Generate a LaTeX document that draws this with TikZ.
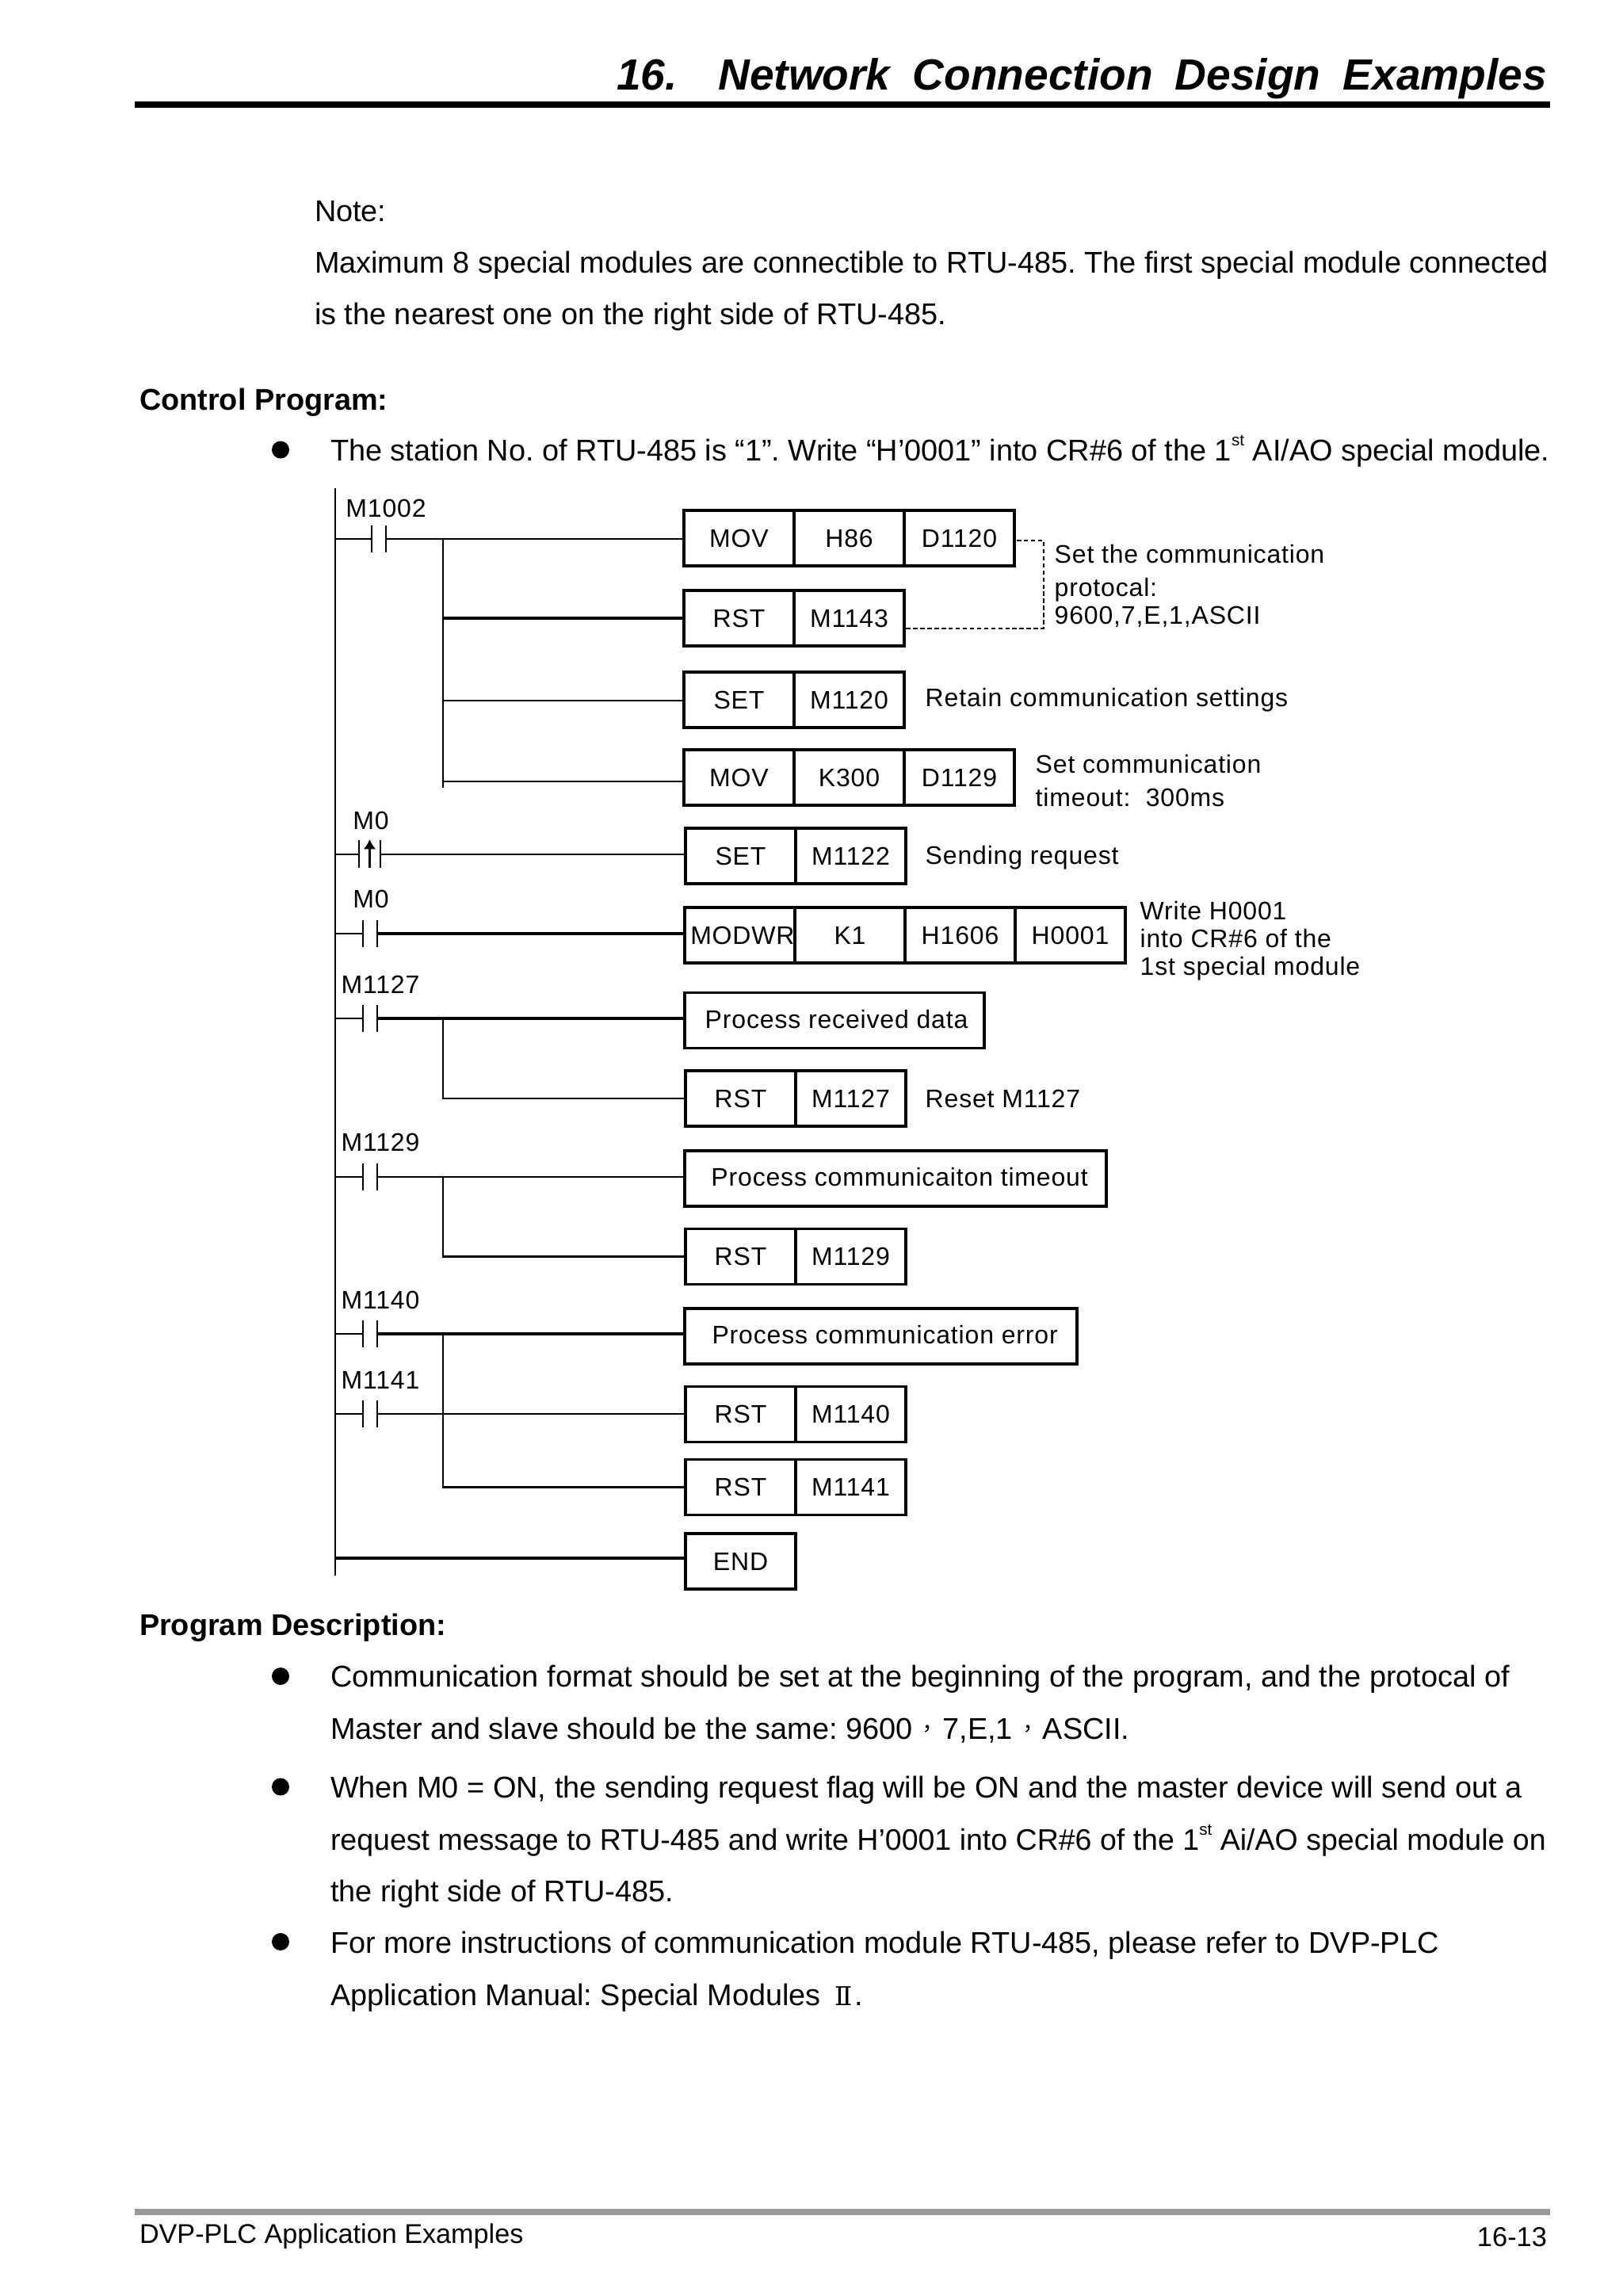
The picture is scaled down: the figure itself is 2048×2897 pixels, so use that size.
\documentclass[tikz,border=0pt]{standalone}
\usepackage{fontspec}
\setmainfont{Liberation Sans}
\newfontfamily\ladderfont[LetterSpace=2.6]{Liberation Sans}
\newfontfamily\cjkfont{Noto Sans CJK TC}
\newfontfamily\romanfont{DejaVu Serif}
\usetikzlibrary{positioning,calc,arrows.meta}
\definecolor{footgray}{RGB}{153,153,153}
\newcommand{\px}{0.2905pt}
\newcommand{\supst}[1]{\raisebox{5.5pt}{\fontsize{6}{7}\selectfont #1}}
\newcommand{\widecomma}{\makebox[11pt][c]{\raisebox{0.8pt}{\cjkfont\fontsize{8}{8}\selectfont ，}}}
\frenchspacing

\tikzset{
    pagetext/.style={anchor=base west,inner sep=0pt,outer sep=0pt,font=\fontsize{11}{13}\selectfont},
    pageend/.style={pagetext,anchor=base east},
    bulletdot/.style={circle,fill=black,inner sep=0pt,minimum size=22*\px},
    wire/.style={line width=0.8pt},
    heavywire/.style={line width=1.1pt},
    cell/.style={draw,line width=0.95pt,inner sep=0pt,outer sep=0pt,minimum width=139*\px,minimum height=70*\px,
        text height=6.6pt,text depth=0pt,font=\ladderfont\fontsize{9.3}{10}\selectfont},
    proccell/.style={cell,anchor=west,text depth=1pt},
    note/.style={anchor=west,inner sep=0pt,align=left,font=\ladderfont\fontsize{9.3}{10.2}\selectfont},
    contactlabel/.style={inner sep=0pt,font=\ladderfont\fontsize{9.3}{10}\selectfont},
    contact/.style={inner sep=0pt,outer sep=0pt,minimum width=18*\px,minimum height=34*\px},
}

\begin{document}
\begin{tikzpicture}[x=\px,y=-\px]
    \useasboundingbox (0,0) rectangle (2048,2897);

    % Page head
    \node[pageend,font=\fontsize{16}{18}\selectfont\bfseries\itshape] (title) at (1952,113) {16.\hspace{15pt}Network\hspace{8.2pt}Connection\hspace{8.2pt}Design\hspace{8.2pt}Examples};
    \fill (170,128) rectangle (1956,135.5);

    % Note
    \node[pagetext] (noteA) at (397,279) {Note:};
    \node[pagetext] (noteB) at (397,344) {Maximum 8 special modules are connectible to RTU-485. The first special module connected};
    \node[pagetext] (noteC) at (397,409.5) {is the nearest one on the right side of RTU-485.};

    % Control program
    \node[pagetext,font=\fontsize{11}{13}\selectfont\bfseries] (ctrlhead) at (176,517) {Control Program:};
    \node[bulletdot] (dotA) at (354,567.5) {};
    \node[pagetext] (ctrltext) at (417,581) {The station No. of RTU-485 is “1”. Write “H’0001” into CR\#6 of the 1\supst{st} AI/AO special module.};

    % Power rail
    \coordinate (railtop) at (423,616);
    \coordinate (railbot) at (423,1988);
    \draw[wire] (railtop) -- (railbot);

    % Contacts
    \foreach \nm/\cx/\cy/\lx/\ly/\txt in {
        cA/478/680/487/641/M1002,
        cC/467/1178/468/1134/M0,
        cD/467/1285/480/1242/M1127,
        cE/467/1485/480/1441/M1129,
        cF/467/1683/480/1640/M1140,
        cG/467/1784/480/1741/M1141} {
        \node[contact] (\nm) at (\cx,\cy) {};
        \node[contactlabel] (\nm lbl) at (\lx,\ly) {\txt};
        \draw[wire] (\nm.north west) -- (\nm.south west);
        \draw[wire] (\nm.north east) -- (\nm.south east);
        \draw[wire] (railtop |- \nm.west) -- (\nm.west);
    }

    % Rising edge contact
    \node[contact,minimum width=27*\px] (cB) at (466.5,1078) {};
    \node[contactlabel] (cBlbl) at (468,1035) {M0};
    \draw[wire] ([shift={(0,-1)}]cB.north west) -- (cB.south west);
    \draw[wire] ([shift={(0,-1)}]cB.north east) -- (cB.south east);
    \draw[wire,-{Latex[length=3.6pt,width=4.6pt]}] (cB.south) -- ([shift={(0,-2)}]cB.north);
    \draw[wire] (railtop |- cB.west) -- (cB.west);

    % Group M1002
    \node[cell,anchor=west] (movA) at (863,679) {MOV};
    \node[cell,right=0pt of movA] (movAsrc) {H86};
    \node[cell,right=0pt of movAsrc] (movAdst) {D1120};
    \node[cell,anchor=west] (rstA) at (863,780) {RST};
    \node[cell,right=0pt of rstA] (rstAdev) {M1143};
    \node[cell,anchor=west] (setA) at (863,883) {SET};
    \node[cell,right=0pt of setA] (setAdev) {M1120};
    \node[cell,anchor=west] (movB) at (863,981) {MOV};
    \node[cell,right=0pt of movB] (movBsrc) {K300};
    \node[cell,right=0pt of movBsrc] (movBdst) {D1129};
    \coordinate (trunkAtop) at (559,680);
    \coordinate (trunkAbot) at (559,994);
    \draw[wire] (trunkAtop) -- (trunkAbot);
    \draw[wire] (cA.east) -- (cA.east -| movA.west);
    \draw[heavywire] (trunkAtop |- rstA.west) -- (rstA.west);
    \draw[wire] ($(trunkAtop |- setA.west)+(0,1)$) -- ($(setA.west)+(0,1)$);
    \draw[wire] ($(trunkAtop |- movB.west)+(0,5)$) -- ($(movB.west)+(0,5)$);

    % Dashed bracket
    \coordinate (dashturn) at (1317,740);
    \draw[wire,dash pattern=on 1.6pt off 1pt] ($(movAdst.east)+(3,3)$) -| (dashturn) |- ($(rstAdev.east)+(1,13)$);
    \node[note] (noteset) at (1330,739) {Set the communication\\[2pt]protocal:\\9600,7,E,1,ASCII};
    \node[note] (noteretain) at (1167,883) {Retain communication settings};
    \node[note] (notetime) at (1306,985) {Set communication\\[2pt]timeout:\ \ 300ms};

    % M0 rows
    \node[cell,anchor=west] (setB) at (865,1080) {SET};
    \node[cell,right=0pt of setB] (setBdev) {M1122};
    \draw[wire] (cB.east) -- (cB.east -| setB.west);
    \node[note] (notesend) at (1167,1082) {Sending request};
    \node[cell,anchor=west] (mod) at (864,1180) {\hspace{2pt}MODWR};
    \node[cell,right=0pt of mod] (modst) {K1};
    \node[cell,right=0pt of modst] (modreg) {H1606};
    \node[cell,right=0pt of modreg] (modval) {H0001};
    \draw[heavywire] (cC.east) -- (cC.east -| mod.west);
    \node[note] (notewrite) at (1438,1187) {Write H0001\\into CR\#6 of the\\1st special module};

    % Group M1127
    \node[proccell,minimum width=378*\px] (procA) at (864,1287.5) {\hspace{1.5pt}Process received data};
    \node[cell,anchor=west] (rstB) at (865,1386) {RST};
    \node[cell,right=0pt of rstB] (rstBdev) {M1127};
    \draw[heavywire] (cD.east) -- (cD.east -| procA.west);
    \draw[wire] (559,1285) |- (rstB.west);
    \node[note] (notereset) at (1167,1386) {Reset M1127};

    % Group M1129
    \node[proccell,minimum width=532*\px] (procB) at (864,1487) {\hspace{3pt}Process communicaiton timeout};
    \node[cell,anchor=west] (rstC) at (865,1585.5) {RST};
    \node[cell,right=0pt of rstC] (rstCdev) {M1129};
    \draw[wire] (cE.east) -- (cE.east -| procB.west);
    \draw[wire] (559,1485) |- (rstC.west);

    % Group M1140 / M1141
    \node[proccell,minimum width=495*\px] (procC) at (864,1686) {\hspace{3pt}Process communication error};
    \node[cell,anchor=west] (rstD) at (865,1784.5) {RST};
    \node[cell,right=0pt of rstD] (rstDdev) {M1140};
    \node[cell,anchor=west] (rstE) at (865,1876.5) {RST};
    \node[cell,right=0pt of rstE] (rstEdev) {M1141};
    \draw[heavywire] (cF.east) -- (cF.east -| procC.west);
    \draw[wire] (cG.east) -- (cG.east -| rstD.west);
    \draw[wire] (559,1683) |- (rstE.west);

    % End
    \node[cell,anchor=west] (endcell) at (865,1970) {END};
    \draw[heavywire] (railtop |- 0,1966) -- ($(endcell.west)+(0,-4)$);

    % Program description
    \node[pagetext,font=\fontsize{11}{13}\selectfont\bfseries] (deschead) at (176,2063) {Program Description:};
    \node[bulletdot] (dotB) at (354,2115) {};
    \node[pagetext] (descA) at (417,2128) {Communication format should be set at the beginning of the program, and the protocal of};
    \node[pagetext] (descB) at (417,2194) {Master and slave should be the same: 9600\widecomma 7,E,1\widecomma ASCII.};
    \node[bulletdot] (dotC) at (354,2254.5) {};
    \node[pagetext] (descC) at (417,2268) {When M0 = ON, the sending request flag will be ON and the master device will send out a};
    \node[pagetext,font=\fontsize{10.9}{13}\selectfont] (descD) at (417,2334) {request message to RTU-485 and write H’0001 into CR\#6 of the 1\supst{st} Ai/AO special module on};
    \node[pagetext] (descE) at (417,2399) {the right side of RTU-485.};
    \node[bulletdot] (dotD) at (354,2450) {};
    \node[pagetext] (descF) at (417,2464) {For more instructions of communication module RTU-485, please refer to DVP-PLC};
    \node[pagetext] (descG) at (417,2530) {Application Manual: Special Modules\hspace{2pt} {\romanfont\fontsize{9.5}{10}\selectfont Ⅱ}\hspace{1pt}.};

    % Page foot
    \fill[footgray] (170,2787) rectangle (1956,2795);
    \node[pagetext,font=\fontsize{9.93}{12}\selectfont] (footL) at (176,2830) {DVP-PLC Application Examples};
    \node[pageend,font=\fontsize{10}{12}\selectfont] (footR) at (1952,2834) {16-13};
\end{tikzpicture}
\end{document}
